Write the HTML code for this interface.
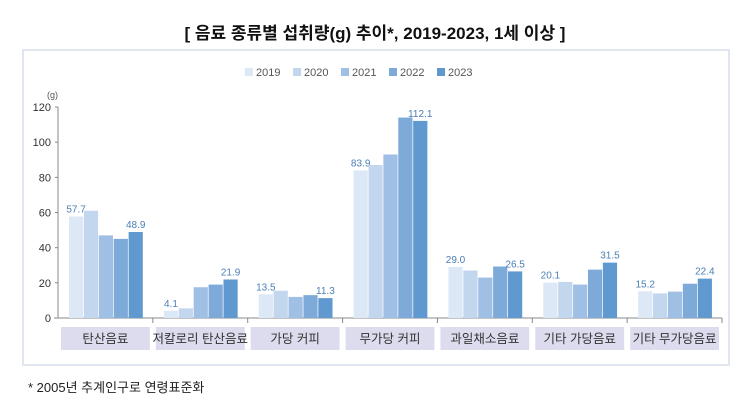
<!DOCTYPE html>
<html><head><meta charset="utf-8"><style>
body{margin:0;background:#fff;width:750px;height:408px;overflow:hidden;font-family:"Liberation Sans","Noto Sans CJK KR",sans-serif}
</style></head><body>
<svg id="chart" width="750" height="408" xmlns="http://www.w3.org/2000/svg">
<text x="375" y="39" text-anchor="middle" font-size="17" font-weight="bold" fill="#111" font-family="Liberation Sans,Noto Sans CJK KR,sans-serif">[ 음료 종류별 섭취량(g) 추이*, 2019-2023, 1세 이상 ]</text>
<rect x="23" y="50" width="706" height="315" fill="none" stroke="#e0e6ef" stroke-width="2"/>
<text x="58" y="98" font-size="9" fill="#555" text-anchor="end">(g)</text>
<g id="axes"></g><g id="bars"></g><g id="legend"></g>
<text x="28" y="392" font-size="13" fill="#222" font-family="Liberation Sans,Noto Sans CJK KR,sans-serif">* 2005년 추계인구로 연령표준화</text>
</svg>
<script>
const categories=["탄산음료","저칼로리 탄산음료","가당 커피","무가당 커피","과일채소음료","기타 가당음료","기타 무가당음료"];
const years=["2019","2020","2021","2022","2023"];
const s2019=[57.7,4.1,13.5,83.9,29.0,20.1,15.2];
const s2020=[61,5.5,15.5,87,27,20.5,14];
const s2021=[47,17.5,12,93,23,19,15];
const s2022=[45,19,13,114,29.3,27.5,19.5];
const s2023=[48.9,21.9,11.3,112.1,26.5,31.5,22.4];
const yTicks=[0,20,40,60,80,100,120];
const series=[s2019,s2020,s2021,s2022,s2023];
const colors=["#dde8f6","#c2d6ee","#a0bfe5","#7eaad9","#5f99d0"];
const NS="http://www.w3.org/2000/svg";
const X0=58,X1=722,Y0=318,Y1=107,YMAX=120;
const gw=(X1-X0)/categories.length;
const y=v=>Y0-(v/YMAX)*(Y0-Y1);
function mk(t,a,p,txt){const e=document.createElementNS(NS,t);for(const k in a)e.setAttribute(k,a[k]);if(txt!=null)e.textContent=txt;p.appendChild(e);return e;}
const axes=document.getElementById('axes'),bars=document.getElementById('bars'),leg=document.getElementById('legend');
const ya=mk('line',{x1:X0,y1:Y1,x2:X0,y2:Y0,stroke:'#888','stroke-width':1},axes);


const xa=mk('line',{x1:X0-4,y1:Y0,x2:X1,y2:Y0,stroke:'#888','stroke-width':1},axes);


yTicks.forEach(t=>{
 const l=mk('line',{x1:X0-3,y1:y(t),x2:X0,y2:y(t),stroke:'#888'},axes);
 
 
 const tx=mk('text',{x:X0-7,y:y(t)+4,'font-size':11,fill:'#333','text-anchor':'end'},axes,t);
 
 
});
categories.forEach((c,i)=>{
 const gx=X0+i*gw;
 const tk=mk('line',{x1:gx+gw,y1:Y0,x2:gx+gw,y2:Y0+5,stroke:'#888'},axes);
 
 
 const bx=mk('rect',{x:gx+3,y:327,width:gw-6,height:23,fill:'#dcdcee'},axes);
 
 
 const lt=mk('text',{x:gx+gw/2,y:343,'font-size':12.5,fill:'#333','text-anchor':'middle'},axes,c);
 
 
 const bw=14.2,gap=0.7,start=gx+11;
 series.forEach((s,j)=>{
  const bxp=start+j*(bw+gap);
  const r=mk('rect',{x:bxp,y:y(s[i]),width:bw,height:Y0-y(s[i]),fill:colors[j]},bars);
  
  
  if(j===0||j===4){
   const v=mk('text',{x:bxp+bw/2,y:y(s[i])-4,'font-size':10,fill:'#4a7fb5','text-anchor':'middle'},bars,s[i].toFixed(1));
   
   
  }
 });
});
years.forEach((yr,j)=>{
 const lx=245+j*48;
 const g=mk('g',{},leg);
 
 
 mk('rect',{x:lx,y:68,width:8,height:8,fill:colors[j]},g);
 mk('text',{x:lx+11,y:76,'font-size':11,fill:'#555'},g,yr);
});
</script>
</body></html>
